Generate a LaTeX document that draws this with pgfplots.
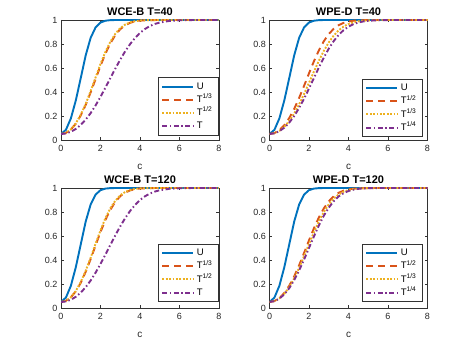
\documentclass[border=0pt]{standalone}
\usepackage{fontspec}
\setmainfont{Liberation Sans}
\usepackage{pgfplots}
\pgfplotsset{compat=1.18}
\definecolor{mblue}{rgb}{0,0.447,0.741}
\definecolor{morange}{rgb}{0.85,0.325,0.098}
\definecolor{myellow}{rgb}{0.929,0.694,0.125}
\definecolor{mpurple}{rgb}{0.494,0.184,0.556}
\newcommand{\sus}[1]{\textsuperscript{#1}}
\pgfplotsset{mystyle/.style={
  scale only axis, width=158pt, height=120pt,
  xmin=0, xmax=8, ymin=0, ymax=1,
  xtick={0,2,4,6,8}, ytick={0,0.2,0.4,0.6,0.8,1},
  tick align=inside, major tick length=2.5pt,
  axis line style={black!80, line width=0.5pt}, tick style={black!80, line width=0.5pt},
  ticklabel style={font=\fontsize{9}{10}\selectfont, text=black!85},
  xticklabel style={yshift=-2pt},
  /pgf/number format/assume math mode=true,
  xlabel={c}, xlabel style={font=\fontsize{10}{11}\selectfont, text=black!85, yshift=-5pt},
  title style={font=\bfseries\fontsize{11}{12}\selectfont, yshift=-4.7pt},
  legend cell align=left,
  legend style={font=\fontsize{9.5}{11}\selectfont, draw=black!80, line width=0.5pt, fill=white,
    anchor=south east, inner xsep=3pt, inner ysep=2.5pt, row sep=0pt,
    nodes={text height=7.2pt, text depth=2pt, inner ysep=2pt, inner xsep=2.5pt}},
  legend image code/.code={\draw[##1] (0pt,0pt) -- (31pt,0pt);},
}}
\tikzset{
  pU/.style={mblue, solid, line width=1.9pt},
  pA/.style={morange, line width=1.9pt, dash pattern=on 7pt off 5pt},
  pB/.style={myellow, line width=1.9pt, dash pattern=on 1.9pt off 1.5pt},
  pC/.style={mpurple, line width=1.9pt, dash pattern=on 5pt off 2.5pt on 1.5pt off 2.5pt},
}
\begin{document}
\begin{tikzpicture}
\useasboundingbox (0,0) rectangle (474pt,348pt);
% ---------- top left
\begin{axis}[mystyle, at={(61pt,208pt)}, anchor=south west, title={WCE-B T=40},
  legend style={at={(0.994,0.037)}}]
\addplot[pU] coordinates {(0,0.05)(0.25,0.085)(0.5,0.18)(0.75,0.33)(1,0.516)(1.25,0.705)(1.5,0.851)(1.75,0.938)(2,0.979)(2.25,0.994)(2.5,0.9988)(2.75,0.9998)(3,1)(8,1)};
\addplot[pA] coordinates {(0,0.05)(0.25,0.059)(0.5,0.0875)(0.75,0.1358)(1,0.2045)(1.25,0.2925)(1.5,0.396)(1.75,0.507)(2,0.618)(2.25,0.7196)(2.5,0.806)(2.75,0.874)(3,0.9236)(3.25,0.9565)(3.5,0.9767)(3.75,0.9885)(4,0.9946)(4.25,0.9977)(4.5,0.999)(5,1)(8,1)};
\addplot[pB] coordinates {(0,0.05)(0.25,0.0597)(0.5,0.089)(0.75,0.139)(1,0.21)(1.25,0.301)(1.5,0.407)(1.75,0.521)(2,0.633)(2.25,0.735)(2.5,0.819)(2.75,0.885)(3,0.932)(3.25,0.962)(3.5,0.98)(3.75,0.99)(4,0.996)(4.5,0.9992)(5,1)(8,1)};
\addplot[pC] coordinates {(0,0.05)(0.25,0.0546)(0.5,0.0685)(0.75,0.0921)(1,0.126)(1.25,0.17)(1.5,0.224)(1.75,0.288)(2,0.36)(2.25,0.4365)(2.5,0.516)(2.75,0.595)(3,0.67)(3.25,0.739)(3.5,0.7995)(3.75,0.851)(4,0.8925)(4.25,0.925)(4.5,0.9495)(4.75,0.967)(5,0.979)(5.5,0.9927)(6,0.9977)(6.5,0.9994)(7,1)(8,1)};
\legend{U\hspace{18pt}, T\sus{1/3}, T\sus{1/2}, T}
\end{axis}
% ---------- top right
\begin{axis}[mystyle, at={(269.5pt,208pt)}, anchor=south west, title={WPE-D T=40},
  legend style={at={(0.966,0.025)}}]
\addplot[pU] coordinates {(0,0.05)(0.25,0.085)(0.5,0.18)(0.75,0.33)(1,0.516)(1.25,0.705)(1.5,0.851)(1.75,0.938)(2,0.979)(2.25,0.994)(2.5,0.9988)(2.75,0.9998)(3,1)(8,1)};
\addplot[pA] coordinates {(0,0.05)(0.25,0.058)(0.5,0.0823)(0.75,0.1236)(1,0.183)(1.25,0.2593)(1.5,0.3505)(1.75,0.451)(2,0.5557)(2.25,0.6562)(2.5,0.7468)(2.75,0.823)(3,0.8827)(3.25,0.9267)(3.5,0.9567)(3.75,0.9758)(4,0.9875)(4.25,0.9937)(4.5,0.997)(5,0.9995)(5.5,1)(8,1)};
\addplot[pB] coordinates {(0,0.05)(0.25,0.0568)(0.5,0.0764)(0.75,0.11)(1,0.158)(1.25,0.221)(1.5,0.297)(1.75,0.3833)(2,0.476)(2.25,0.5704)(2.5,0.6608)(2.75,0.7428)(3,0.813)(3.25,0.87)(3.5,0.9137)(3.75,0.9453)(4,0.967)(4.25,0.9808)(4.5,0.9895)(4.75,0.9945)(5,0.9971)(5.5,0.9995)(6,1)(8,1)};
\addplot[pC] coordinates {(0,0.05)(0.25,0.0559)(0.5,0.0735)(0.75,0.1026)(1,0.1446)(1.25,0.1996)(1.5,0.2667)(1.75,0.344)(2,0.4287)(2.25,0.517)(2.5,0.6044)(2.75,0.6868)(3,0.761)(3.25,0.8245)(3.5,0.8758)(3.75,0.9156)(4,0.945)(4.25,0.9657)(4.5,0.9795)(4.75,0.9882)(5,0.9935)(5.5,0.9983)(6,0.9996)(6.5,1)(8,1)};
\legend{U\hspace{15pt}, T\sus{1/2}, T\sus{1/3}, T\sus{1/4}}
\end{axis}
% ---------- bottom left
\begin{axis}[mystyle, at={(61pt,40pt)}, anchor=south west, title={WCE-B T=120},
  legend style={at={(0.994,0.05)}}]
\addplot[pU] coordinates {(0,0.05)(0.25,0.087)(0.5,0.185)(0.75,0.34)(1,0.53)(1.25,0.72)(1.5,0.862)(1.75,0.945)(2,0.982)(2.25,0.995)(2.5,0.999)(2.75,0.9998)(3,1)(8,1)};
\addplot[pA] coordinates {(0,0.05)(0.25,0.0597)(0.5,0.089)(0.75,0.139)(1,0.21)(1.25,0.301)(1.5,0.407)(1.75,0.521)(2,0.633)(2.25,0.735)(2.5,0.819)(2.75,0.885)(3,0.932)(3.25,0.962)(3.5,0.98)(3.75,0.99)(4,0.996)(4.5,0.9992)(5,1)(8,1)};
\addplot[pB] coordinates {(0,0.05)(0.25,0.06)(0.5,0.09)(0.75,0.142)(1,0.216)(1.25,0.31)(1.5,0.418)(1.75,0.535)(2,0.648)(2.25,0.749)(2.5,0.832)(2.75,0.894)(3,0.939)(3.25,0.967)(3.5,0.983)(3.75,0.9926)(4,0.9966)(4.5,0.9995)(5,1)(8,1)};
\addplot[pC] coordinates {(0,0.05)(0.25,0.0548)(0.5,0.0689)(0.75,0.0933)(1,0.128)(1.25,0.1733)(1.5,0.2287)(1.75,0.2942)(2,0.3672)(2.25,0.4454)(2.5,0.526)(2.75,0.6055)(3,0.6806)(3.25,0.749)(3.5,0.809)(3.75,0.859)(4,0.8995)(4.25,0.9307)(4.5,0.9538)(4.75,0.9703)(5,0.9813)(5.5,0.9936)(6,0.998)(6.5,0.9995)(7,1)(8,1)};
\legend{U\hspace{18pt}, T\sus{1/3}, T\sus{1/2}, T}
\end{axis}
% ---------- bottom right
\begin{axis}[mystyle, at={(269.5pt,40pt)}, anchor=south west, title={WPE-D T=120},
  legend style={at={(0.966,0.05)}}]
\addplot[pU] coordinates {(0,0.05)(0.25,0.087)(0.5,0.185)(0.75,0.34)(1,0.53)(1.25,0.72)(1.5,0.862)(1.75,0.945)(2,0.982)(2.25,0.995)(2.5,0.999)(2.75,0.9998)(3,1)(8,1)};
\addplot[pA] coordinates {(0,0.05)(0.25,0.0584)(0.5,0.0829)(0.75,0.125)(1,0.1856)(1.25,0.2634)(1.5,0.356)(1.75,0.4584)(2,0.5635)(2.25,0.6645)(2.5,0.7547)(2.75,0.83)(3,0.8886)(3.25,0.931)(3.5,0.9599)(3.75,0.978)(4,0.9886)(4.25,0.9944)(4.5,0.9974)(5,0.9996)(5.5,1)(8,1)};
\addplot[pB] coordinates {(0,0.05)(0.25,0.0576)(0.5,0.0803)(0.75,0.1186)(1,0.175)(1.25,0.2475)(1.5,0.334)(1.75,0.432)(2,0.532)(2.25,0.631)(2.5,0.722)(2.75,0.8008)(3,0.864)(3.25,0.912)(3.5,0.946)(3.75,0.969)(4,0.9826)(4.25,0.991)(4.5,0.9957)(5,0.999)(5.5,1)(8,1)};
\addplot[pC] coordinates {(0,0.05)(0.25,0.0572)(0.5,0.078)(0.75,0.1141)(1,0.1653)(1.25,0.2321)(1.5,0.3129)(1.75,0.4035)(2,0.5)(2.25,0.5967)(2.5,0.6877)(2.75,0.7688)(3,0.8362)(3.25,0.8896)(3.5,0.9297)(3.75,0.9567)(4,0.975)(4.25,0.9861)(4.5,0.9929)(4.75,0.9965)(5,0.9983)(5.5,0.9997)(6,1)(8,1)};
\legend{U\hspace{15pt}, T\sus{1/2}, T\sus{1/3}, T\sus{1/4}}
\end{axis}
\end{tikzpicture}
\end{document}
